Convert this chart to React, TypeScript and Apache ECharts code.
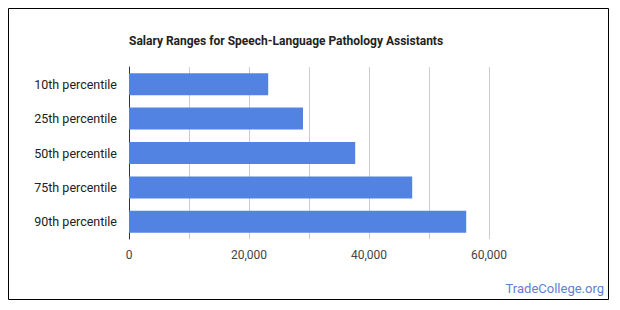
import React, { useEffect, useRef } from "react";
import * as echarts from "echarts";

const categories = ["10th percentile", "25th percentile", "50th percentile", "75th percentile", "90th percentile"];
const salaries = [23200, 29000, 37700, 47200, 56200];
const titleText = "Salary Ranges for Speech-Language Pathology Assistants";
const watermark = "TradeCollege.org";

export default function App() {
  const ref = useRef<HTMLDivElement>(null);
  useEffect(() => {
    if (!ref.current) return;
    const chart = echarts.init(ref.current, null, { renderer: "svg" });
    chart.setOption({
      animation: false,
      backgroundColor: "#ffffff",
      textStyle: { fontFamily: "Roboto" },
      title: {
        text: titleText,
        left: 129,
        top: 35,
        padding: 0,
        textStyle: { fontFamily: "Roboto", fontWeight: "bold", fontSize: 12, color: "#222222" },
      },
      grid: { left: 129, right: 131, top: 67, bottom: 71, containLabel: false },
      xAxis: {
        type: "value",
        min: 0,
        max: 60000,
        interval: 10000,
        axisLine: { show: false },
        axisTick: { show: false },
        splitLine: { show: true, lineStyle: { color: "#cccccc", width: 1 } },
        axisLabel: {
          color: "#444444",
          fontSize: 12,
          fontFamily: "Roboto",
          margin: 10,
          formatter: (v: number) => (v % 20000 === 0 ? v.toLocaleString("en-US") : ""),
        },
      },
      yAxis: {
        type: "category",
        data: categories,
        inverse: true,
        axisLine: { show: true, lineStyle: { color: "#333333", width: 1 } },
        axisTick: { show: false },
        axisLabel: { color: "#222222", fontSize: 12.5, fontFamily: "Roboto", margin: 12 },
      },
      series: [
        {
          type: "bar",
          data: salaries,
          barCategoryGap: "36%",
          itemStyle: { color: "#5283e3" },
          z: 3,
        },
      ],
      graphic: [
        {
          type: "rect",
          shape: { x: 8.5, y: 8.5, width: 600, height: 291 },
          style: { fill: "none", stroke: "#000000", lineWidth: 1 },
          silent: true,
        },
        {
          type: "text",
          right: 16,
          top: 282,
          style: { text: watermark, fill: "#5b82d4", font: "13px Roboto" },
        },
      ],
    });
    return () => chart.dispose();
  }, []);
  return <div ref={ref} style={{ position: "fixed", left: 0, top: 0, width: 620, height: 310 }} />;
}
